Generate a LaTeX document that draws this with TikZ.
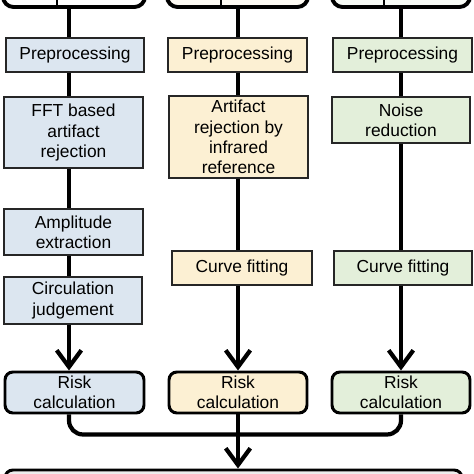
\documentclass[tikz,border=0pt]{standalone}
\usepackage{fontspec}
\setmainfont{Liberation Sans}
\usetikzlibrary{arrows.meta}
\definecolor{bluefill}{HTML}{DCE6F0}
\definecolor{yellowfill}{HTML}{FCF0D3}
\definecolor{greenfill}{HTML}{E3EFDA}
\definecolor{grayfill}{HTML}{EDEDED}
\tikzset{
  boxsize/.style 2 args={minimum width=#1*0.02cm,minimum height=#2*0.02cm},
  stepbox/.style={rectangle,draw=black!85,line width=0.9pt,align=center,inner sep=0pt,
    font=\fontsize{9.9}{11.6}\selectfont},
  riskbox/.style={stepbox,rounded corners=4.5pt,line width=1.7pt,draw=black},
  topbox/.style={rectangle,draw=black,rounded corners=6pt,line width=2.2pt},
  link/.style={line width=2.4pt},
  flow/.style={link,-{Straight Barb[length=9.5pt,width=14pt]}}
}
\begin{document}
\begin{tikzpicture}[x=0.02cm,y=-0.02cm]
  \useasboundingbox (0,0) rectangle (474,474);
  \coordinate (l1) at (69,0);\coordinate (l2) at (238,0);\coordinate (l3) at (401,0);
  % top boxes, only their lower edge is visible
  \node[topbox,fill=white,boxsize={142}{50}] (top1) at (74,-18) {};
  \node[topbox,fill=yellowfill!25,boxsize={141}{50}] (top2) at (237.5,-18) {};
  \node[topbox,fill=greenfill!25,boxsize={138}{50}] (top3) at (401,-18) {};
  \draw[line width=1pt] (top1.south west) ++(56,0) -- ++(0,-60);
  \draw[line width=1pt] (top2.south west) ++(56,0) -- ++(0,-60);
  \draw[line width=1pt] (top3.south west) ++(54,0) -- ++(0,-60);
  % first column
  \node[stepbox,fill=bluefill,boxsize={138}{34}] (pre1) at (75,55) {Preprocessing};
  \node[stepbox,fill=bluefill,boxsize={139}{71}] (fft1) at (73.5,132.5) {FFT based\\artifact\\rejection};
  \node[stepbox,fill=bluefill,boxsize={139}{46}] (amp1) at (73.5,232) {Amplitude\\extraction};
  \node[stepbox,fill=bluefill,boxsize={138}{47}] (circ1) at (73,300.5) {Circulation\\judgement};
  \node[riskbox,fill=bluefill,boxsize={139}{41}] (risk1) at (74.5,392.5) {Risk\\calculation};
  % second column
  \node[stepbox,fill=yellowfill,boxsize={139}{34}] (pre2) at (237.5,55) {Preprocessing};
  \node[stepbox,fill=yellowfill,boxsize={139}{82}] (art2) at (238.5,137) {Artifact\\rejection by\\infrared\\reference};
  \node[stepbox,fill=yellowfill,boxsize={140}{34}] (curve2) at (242,268) {Curve fitting};
  \node[riskbox,fill=yellowfill,boxsize={138}{41}] (risk2) at (238,392.5) {Risk\\calculation};
  % third column
  \node[stepbox,fill=greenfill,boxsize={139}{34}] (pre3) at (402.5,55) {Preprocessing};
  \node[stepbox,fill=greenfill,boxsize={138}{46}] (noise3) at (401,120) {Noise\\reduction};
  \node[stepbox,fill=greenfill,boxsize={138}{34}] (curve3) at (403,268) {Curve fitting};
  \node[riskbox,fill=greenfill,boxsize={138}{41}] (risk3) at (401,392.5) {Risk\\calculation};
  % summary box, cut by the lower edge
  \node[riskbox,fill=grayfill,boxsize={457}{40}] (sum) at (233.5,490) {};
  % links
  \draw[link] (top1.south -| l1) -- (pre1.north -| l1) (pre1.south -| l1) -- (fft1.north -| l1)
    (fft1.south -| l1) -- (amp1.north -| l1) (amp1.south -| l1) -- (circ1.north -| l1);
  \draw[link] (top2.south -| l2) -- (pre2.north -| l2) (pre2.south -| l2) -- (art2.north -| l2)
    (art2.south -| l2) -- (curve2.north -| l2);
  \draw[link] (top3.south -| l3) -- (pre3.north -| l3) (pre3.south -| l3) -- (noise3.north -| l3)
    (noise3.south -| l3) -- (curve3.north -| l3);
  \draw[flow] (circ1.south -| l1) -- (risk1.north -| l1);
  \draw[flow] (curve2.south -| l2) -- (risk2.north -| l2);
  \draw[flow] (curve3.south -| l3) -- (risk3.north -| l3);
  \draw[link,rounded corners=8] (risk1.south -| l1) -- ++(0,20) -| (risk3.south -| l3);
  \draw[flow] (risk2.south -| l2) -- (sum.north -| l2);
\end{tikzpicture}
\end{document}
